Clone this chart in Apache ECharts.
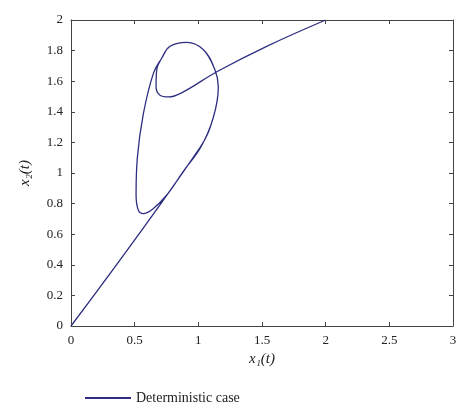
<!DOCTYPE html><html><head><meta charset="utf-8">
<script src="https://cdn.jsdelivr.net/npm/echarts@6/dist/echarts.min.js"></script>
<style>html,body{margin:0;background:#fff}#c{width:474px;height:417px}</style></head><body><div id="c"></div>
<script>
const xs = [0, 1.013, 1.118, 1.157, 1.131, 1.04, 0.909, 0.778, 0.712, 0.647, 0.568, 0.521, 0.511, 0.529, 0.568, 0.647, 0.752, 0.882, 1.02, 1.118, 1.157, 1.131, 1.04, 0.909, 0.778, 0.712, 0.673, 0.668, 0.699, 0.765, 0.882, 1.145, 1.537, 2.0];
const ys = [0, 1.166, 1.364, 1.563, 1.673, 1.806, 1.854, 1.828, 1.75, 1.651, 1.386, 1.099, 0.856, 0.757, 0.735, 0.768, 0.856, 1.011, 1.17, 1.364, 1.563, 1.673, 1.806, 1.854, 1.828, 1.75, 1.673, 1.563, 1.508, 1.497, 1.530, 1.662, 1.828, 2.0];
const xTicks = [0, 0.5, 1, 1.5, 2, 2.5, 3];
const yTicks = [0, 0.2, 0.4, 0.6, 0.8, 1, 1.2, 1.4, 1.6, 1.8, 2];
const data = xs.map((x, i) => [x, ys[i]]);
const font = 'Liberation Serif';
const axisBase = {axisLine:{show:true,onZero:false,lineStyle:{color:'#444'}},axisTick:{inside:true,length:4,lineStyle:{color:'#444'}},splitLine:{show:false}};
const chart = echarts.init(document.getElementById('c'));
chart.setOption({
  animation:false,
  grid:{left:71,right:21,top:20,bottom:91},
  legend:{left:80,top:386,itemWidth:46,itemHeight:2,icon:'rect',textStyle:{fontFamily:font,fontSize:14,color:'#222'},data:['Deterministic case']},
  xAxis:[
    Object.assign({type:'value',min:0,max:3,interval:0.5,name:'x₁(t)',nameLocation:'middle',nameGap:26,nameTextStyle:{fontFamily:font,fontStyle:'italic',fontSize:15,color:'#222'},axisLabel:{fontFamily:font,fontSize:13,color:'#222',formatter:v=>String(v)}},axisBase),
    Object.assign({type:'value',position:'top',min:0,max:3,interval:0.5,axisLabel:{show:false}},axisBase)
  ],
  yAxis:[
    Object.assign({type:'value',min:0,max:2,interval:0.2,name:'x₂(t)',nameLocation:'middle',nameGap:38,nameTextStyle:{fontFamily:font,fontStyle:'italic',fontSize:15,color:'#222'},axisLabel:{fontFamily:font,fontSize:13,color:'#222',formatter:v=>String(+v.toFixed(1))}},axisBase),
    Object.assign({type:'value',position:'right',min:0,max:2,interval:0.2,axisLabel:{show:false}},axisBase)
  ],
  series:[{name:'Deterministic case',type:'line',data:data,smooth:0.4,showSymbol:false,lineStyle:{color:'#2e2e80',width:1.3},itemStyle:{color:'#2e2e80'}}]
});
</script></body></html>
